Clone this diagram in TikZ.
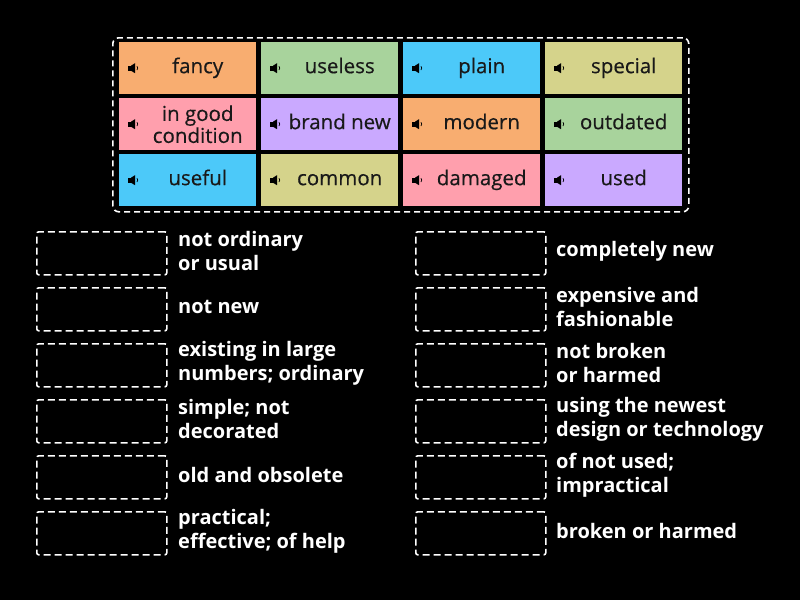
\documentclass[tikz,border=0pt]{standalone}
\usepackage{fontspec}
\setmainfont{Open Sans}
\usetikzlibrary{calc}
\begin{document}
\begin{tikzpicture}[x=1pt,y=-1pt,
  tile/.style={minimum width=137pt,minimum height=52pt,inner sep=0pt,anchor=north west},
  ttext/.style={font=\fontsize{20.5}{21}\selectfont\addfontfeature{FakeBold=0.4},text=black!90,align=center,anchor=center,text height=14pt,text depth=4pt,inner sep=0pt},
  slot/.style={draw=white,dashed,line width=1.6pt,dash pattern=on 7pt off 4pt,rounded corners=2pt,minimum width=130pt,minimum height=43pt,anchor=north west,inner sep=0pt},
  def/.style={font=\fontsize{20}{24}\selectfont\bfseries,text=white,align=left,anchor=west,inner sep=0pt}]
\definecolor{cO}{HTML}{F8AD70}\definecolor{cG}{HTML}{A8D39C}\definecolor{cB}{HTML}{4CC9F9}
\definecolor{cY}{HTML}{D5D38B}\definecolor{cP}{HTML}{FF9FAD}\definecolor{cV}{HTML}{CAA9FF}
\fill[black] (0,0) rectangle (800,600);
\useasboundingbox (0,0) rectangle (800,600);
\node[draw=white,dashed,line width=1.6pt,dash pattern=on 6pt off 4pt,rounded corners=6pt,minimum width=576pt,minimum height=174pt,anchor=north west,inner sep=0pt] (frame) at (112,37) {};
\newcommand{\tl}[5]{%
  \node[tile,fill=#4] (#5) at (#1,#2) {};
  \fill[black] ($(#5.west)+(9,-2.5)$) rectangle ++(3,5);
  \fill[black] ($(#5.west)+(12,-2.5)$) -- ++(4,-2.5) -- ++(0,10) -- ++(-4,-2.5) -- cycle;
  \draw[black,line width=0.7pt] ($(#5.west)+(18,-2)$) arc (-40:40:3);
  \node[ttext] at ($(#5.center)+(10,0)$) {#3};}
\tl{119}{42}{fancy}{cO}{t11}\tl{261}{42}{useless}{cG}{t12}\tl{403}{42}{plain}{cB}{t13}\tl{545}{42}{special}{cY}{t14}
\node[tile,fill=cP] (t21) at (119,98) {};
\fill[black] ($(t21.west)+(9,-2.5)$) rectangle ++(3,5);
\fill[black] ($(t21.west)+(12,-2.5)$) -- ++(4,-2.5) -- ++(0,10) -- ++(-4,-2.5) -- cycle;
\draw[black,line width=0.7pt] ($(t21.west)+(18,-2)$) arc (-40:40:3);
\node[font=\fontsize{20.5}{22}\selectfont\addfontfeature{FakeBold=0.4},text=black!90,align=center,inner sep=0pt] at ($(t21.center)+(10,0)$) {in good\\condition};
\tl{261}{98}{brand new}{cV}{t22}\tl{403}{98}{modern}{cO}{t23}\tl{545}{98}{outdated}{cG}{t24}
\tl{119}{154}{useful}{cB}{t31}\tl{261}{154}{common}{cY}{t32}\tl{403}{154}{damaged}{cP}{t33}\tl{545}{154}{used}{cV}{t34}
\foreach \i/\a/\b [count=\k] in {0/{not ordinary\\or usual}/{completely new},1/{not new}/{expensive and\\fashionable},2/{existing in large\\numbers; ordinary}/{not broken\\or harmed},3/{simple; not\\decorated}/{using the newest\\design or technology},4/{old and obsolete}/{of not used;\\impractical},5/{practical;\\effective; of help}/{broken or harmed}}{
  \node[slot] (l\k) at (36,231+56*\i) {};
  \node[def] (dl\k) at (178,251+56*\i) {\a};
  \node[slot] (r\k) at (415,231+56*\i) {};
  \node[def] (dr\k) at (556,251+56*\i) {\b};
}
\end{tikzpicture}
\end{document}
